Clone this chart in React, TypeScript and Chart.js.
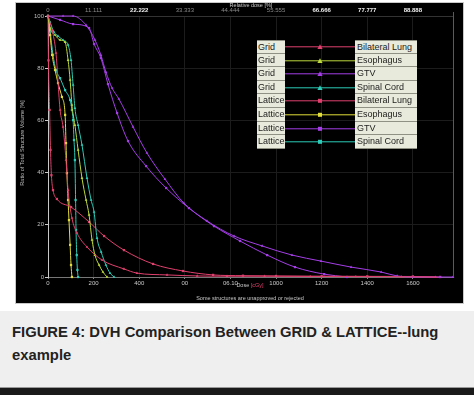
import React, { useEffect, useRef } from "react";
import { Chart, registerables } from "chart.js";
Chart.register(...registerables);

// ---- axes / ticks ----
const xTickValues = [0, 200, 400, 600, 800, 1000, 1200, 1400, 1600];
const xTickLabels = ["0", "200", "400", "00", "06.10", "1000", "1200", "1400", "1600"];
const topTickLabels = ["0", "11.111", "22.222", "33.333", "44.444", "55.555", "66.666", "77.777", "88.888"];
const topTickBold = [false, false, true, false, false, false, true, true, true];
const yTickValues = [0, 20, 40, 60, 80, 100];
const yTickLabels = ["0", "20", "40", "60", "80", "100"];
const doseMax = 1776;

// ---- legend ----
const plans = ["Grid", "Lattice"];
const structures = ["Bilateral Lung", "Esophagus", "GTV", "Spinal Cord"];

// ---- series (dose cGy / volume %) ----
const lungGridDose = [0, 18, 35, 53, 66, 79, 88, 105, 127, 171, 237, 333, 390, 522, 654, 785, 950, 1150, 1350, 1550, 1700];
const lungGridVol = [100, 94.6, 85.8, 64, 57.5, 44.8, 33.3, 22.6, 16.9, 11.5, 6.5, 3.1, 1.5, 0.8, 0.4, 0.3, 0.3, 0.2, 0.2, 0.1, 0];

const escGridDose = [0, 9, 31, 53, 75, 88, 97, 105, 118, 132, 149, 167, 180, 193, 206, 224, 241, 259];
const escGridVol = [100, 95.4, 92.7, 90.8, 90.0, 83.1, 75.5, 65.9, 58.2, 48.7, 37.9, 29.5, 23.8, 14.2, 8.4, 4.6, 1.9, 0];

const gtvGridDose = [0, 66, 110, 167, 206, 232, 254, 281, 311, 373, 434, 513, 596, 697, 816, 939, 1070, 1197, 1329, 1461, 1531, 1601, 1719, 1776];
const gtvGridVol = [100, 100, 100, 96.5, 90.8, 85.0, 78.5, 72.4, 68.2, 57.5, 47.5, 37.5, 28.3, 21.5, 15.7, 11.9, 8.4, 6.1, 3.8, 1.9, 0.4, 0, 0, 0];

const cordGridDose = [0, 9, 26, 44, 66, 88, 101, 110, 118, 132, 149, 171, 189, 202, 215, 233, 254, 272, 290];
const cordGridVol = [100, 97.7, 93.9, 92.3, 90.8, 88.9, 83.1, 73.6, 64.7, 58.2, 50.6, 37.9, 29.5, 24.9, 14.9, 9.6, 4.6, 1.5, 0];

const lungLatDose = [0, 2, 7, 11, 15, 22, 39, 101, 180, 246, 333, 461, 592, 724, 855, 1000, 1200, 1400, 1600, 1720];
const lungLatVol = [100, 83, 64, 48.7, 39, 33.3, 29.9, 26.8, 21.1, 15.7, 10.3, 5.0, 2.3, 0.8, 0.5, 0.4, 0.3, 0.25, 0.2, 0];

const escLatDose = [0, 9, 18, 31, 44, 61, 75, 79, 83, 88, 92, 97, 101, 105];
const escLatVol = [100, 92.7, 85.1, 79.3, 74.3, 69.0, 62.1, 51.3, 39.8, 29.5, 21.8, 12.3, 4.6, 0];

const gtvLatDose = [0, 53, 110, 180, 202, 232, 263, 303, 351, 430, 518, 618, 728, 842, 961, 1083, 1211, 1311];
const gtvLatVol = [100, 98.5, 96.9, 95.4, 89.3, 83.9, 73.9, 62.8, 52.1, 42.5, 34.1, 26.4, 19.5, 13.8, 8.4, 3.8, 1.1, 0];

const cordLatDose = [0, 9, 22, 35, 53, 75, 97, 105, 110, 114, 118, 121, 123, 126, 129, 132];
const cordLatVol = [100, 94.6, 85.1, 79.3, 76.2, 71.6, 67.8, 64.0, 60.1, 52.5, 44.8, 29.5, 18.0, 8.4, 2.7, 0];

const gridColors = ["#e0406e", "#bcd83c", "#a43ee6", "#2ccbb8"];
const latticeColors = ["#e0406e", "#e0dc3a", "#a43ee6", "#2ccbb8"];

const FAMILY = '"Liberation Sans", Arial, sans-serif';

function mk(label: string, xs: number[], ys: number[], color: string, style: string) {
  return {
    label,
    data: xs.map((x, i) => ({ x, y: ys[i] })),
    borderColor: color,
    backgroundColor: color,
    borderWidth: 1,
    pointRadius: 1.6,
    pointStyle: style,
    pointBorderWidth: 0,
    pointBackgroundColor: color,
    cubicInterpolationMode: "monotone",
    clip: false,
    xAxisID: "x",
    yAxisID: "y",
  };
}

const textPlugin = {
  id: "figureTexts",
  afterDraw(chart: any) {
    const { ctx, chartArea } = chart;
    ctx.save();
    ctx.strokeStyle = "#5a5a5a";
    ctx.lineWidth = 1;
    ctx.beginPath();
    ctx.moveTo(Math.round(chartArea.right) + 0.5, chartArea.top - 4);
    ctx.lineTo(Math.round(chartArea.right) + 0.5, chartArea.bottom);
    ctx.stroke();

    ctx.font = `5.5px ${FAMILY}`;
    ctx.fillStyle = "#c8c8c8";
    ctx.textAlign = "center";
    ctx.textBaseline = "middle";
    ctx.fillText("Relative dose [%]", 235, 2.8);
    ctx.fillText("Some structures are unapproved or rejected", 234, 295);

    // Dose [cGy]
    const a = "Dose ";
    const b = "[cGy]";
    const wa = ctx.measureText(a).width;
    const wb = ctx.measureText(b).width;
    const sx = 234 - (wa + wb) / 2;
    ctx.textAlign = "left";
    ctx.fillStyle = "#c8c8c8";
    ctx.fillText(a, sx, 282);
    ctx.fillStyle = "#e0406e";
    ctx.fillText(b, sx + wa, 282);

    // y title
    ctx.fillStyle = "#bdbdbd";
    ctx.textAlign = "center";
    ctx.translate(6, 140);
    ctx.rotate(-Math.PI / 2);
    ctx.fillText("Ratio of Total Structure Volume [%]", 0, 0);
    ctx.restore();
  },
};

function LegendBox() {
  const rows: { plan: string; structure: string; color: string; marker: string }[] = [];
  plans.forEach((p, pi) =>
    structures.forEach((s, si) =>
      rows.push({
        plan: p,
        structure: s,
        color: pi === 0 ? gridColors[si] : latticeColors[si],
        marker: pi === 0 ? "triangle" : "rect",
      })
    )
  );
  const rh = 13.6;
  const cellBase: React.CSSProperties = {
    position: "absolute",
    top: 0,
    height: rh,
    background: "#e8ebdb",
    borderBottom: "1px solid #8f9185",
    boxSizing: "border-box",
    fontFamily: FAMILY,
    fontSize: 9,
    color: "#222",
    lineHeight: `${rh - 1}px`,
    paddingLeft: 1,
    whiteSpace: "nowrap",
    overflow: "hidden",
  };
  return (
    <div style={{ position: "absolute", left: 257, top: 40, width: 160, height: rh * 8 }}>
      {rows.map((r, i) => (
        <div key={i} style={{ position: "absolute", left: 0, top: i * rh, width: 160, height: rh }}>
          <div style={{ ...cellBase, left: 0, width: 28, borderTop: i === 0 ? "1px solid #8f9185" : undefined }}>
            {r.plan}
          </div>
          <svg style={{ position: "absolute", left: 28, top: 0 }} width={70} height={rh}>
            <line x1={0} x2={70} y1={rh / 2} y2={rh / 2} stroke={r.color} strokeWidth={1} />
            {r.marker === "triangle" ? (
              <polygon points={`${35 - 2.6},${rh / 2 + 2.2} ${35 + 2.6},${rh / 2 + 2.2} 35,${rh / 2 - 2.6}`} fill={r.color} />
            ) : (
              <rect x={33} y={rh / 2 - 2} width={4} height={4} fill={r.color} />
            )}
          </svg>
          <div style={{ ...cellBase, left: 98, width: 62, borderTop: i === 0 ? "1px solid #8f9185" : undefined, paddingLeft: 2 }}>
            {r.structure}
          </div>
        </div>
      ))}
    </div>
  );
}

export default function App() {
  const ref = useRef<HTMLCanvasElement>(null);
  useEffect(() => {
    if (!ref.current) return;
    const datasets: any[] = [
      mk("Grid Bilateral Lung", lungGridDose, lungGridVol, gridColors[0], "triangle"),
      mk("Grid Esophagus", escGridDose, escGridVol, gridColors[1], "triangle"),
      mk("Grid GTV", gtvGridDose, gtvGridVol, gridColors[2], "triangle"),
      mk("Grid Spinal Cord", cordGridDose, cordGridVol, gridColors[3], "triangle"),
      mk("Lattice Bilateral Lung", lungLatDose, lungLatVol, latticeColors[0], "rect"),
      mk("Lattice Esophagus", escLatDose, escLatVol, latticeColors[1], "rect"),
      mk("Lattice GTV", gtvLatDose, gtvLatVol, latticeColors[2], "rect"),
      mk("Lattice Spinal Cord", cordLatDose, cordLatVol, latticeColors[3], "rect"),
    ];
    const chart = new Chart(ref.current, {
      type: "line",
      data: { datasets },
      plugins: [textPlugin],
      options: {
        animation: false,
        responsive: false,
        devicePixelRatio: 1,
        layout: { padding: { left: 0, right: 10, top: 0, bottom: 0 } },
        plugins: { legend: { display: false }, tooltip: { enabled: false } },
        scales: {
          x: {
            type: "linear",
            position: "bottom",
            min: 0,
            max: doseMax,
            afterBuildTicks: (s: any) => {
              s.ticks = xTickValues.map((v) => ({ value: v }));
            },
            afterFit: (s: any) => {
              s.height = 26;
            },
            ticks: {
              callback: (_v: any, i: number) => xTickLabels[i],
              color: "#c8c8c8",
              font: { size: 6, family: FAMILY },
              padding: 1,
              maxRotation: 0,
              autoSkip: false,
            },
            grid: { color: "#1c1c1c", tickColor: "#888", tickLength: 2 },
            border: { color: "#777" },
          },
          x2: {
            type: "linear",
            position: "top",
            min: 0,
            max: doseMax,
            afterBuildTicks: (s: any) => {
              s.ticks = xTickValues.map((v) => ({ value: v }));
            },
            afterFit: (s: any) => {
              s.height = 13;
            },
            ticks: {
              callback: (_v: any, i: number) => topTickLabels[i],
              color: (c: any) => (topTickBold[c.index] ? "#f0f0f0" : "#8a8a8a"),
              font: (c: any) => ({ size: 6, family: FAMILY, weight: topTickBold[c.index] ? "bold" : "normal" }),
              padding: 2,
              maxRotation: 0,
              autoSkip: false,
            },
            grid: { display: false, drawTicks: false },
            border: { color: "#333" },
          },
          y: {
            type: "linear",
            min: 0,
            max: 100,
            afterBuildTicks: (s: any) => {
              s.ticks = yTickValues.map((v) => ({ value: v }));
            },
            afterFit: (s: any) => {
              s.width = 32;
            },
            ticks: {
              callback: (_v: any, i: number) => yTickLabels[i],
              color: "#bdbdbd",
              font: { size: 6, family: FAMILY },
              padding: 1,
            },
            grid: { color: "#1c1c1c", tickColor: "#ccc", tickLength: 3 },
            border: { color: "#c8c8c8" },
          },
        },
      } as any,
    });
    return () => chart.destroy();
  }, []);

  return (
    <div style={{ position: "absolute", left: 0, top: 0, width: 474, height: 395, background: "#fff", overflow: "hidden" }}>
      <div
        style={{
          position: "absolute",
          left: 15,
          top: 2,
          width: 449,
          height: 302,
          background: "#000",
          border: "1px solid #c8c8c8",
          boxSizing: "border-box",
        }}
      />
      <canvas ref={ref} width={447} height={300} style={{ position: "absolute", left: 16, top: 3, width: 447, height: 300 }} />
      <LegendBox />
      <div style={{ position: "absolute", left: 0, top: 311, width: 474, height: 76, background: "#efefef" }} />
      <div
        style={{
          position: "absolute",
          left: 12,
          top: 321,
          width: 460,
          fontFamily: FAMILY,
          fontWeight: "bold",
          fontSize: 14.8,
          lineHeight: "23px",
          color: "#222",
        }}
      >
        FIGURE 4: DVH Comparison Between GRID &amp; LATTICE--lung
        <br />
        example
      </div>
      <div style={{ position: "absolute", left: 0, top: 387, width: 474, height: 1, background: "#999" }} />
      <div style={{ position: "absolute", left: 0, top: 388, width: 474, height: 7, background: "#1a1a1a" }} />
    </div>
  );
}
